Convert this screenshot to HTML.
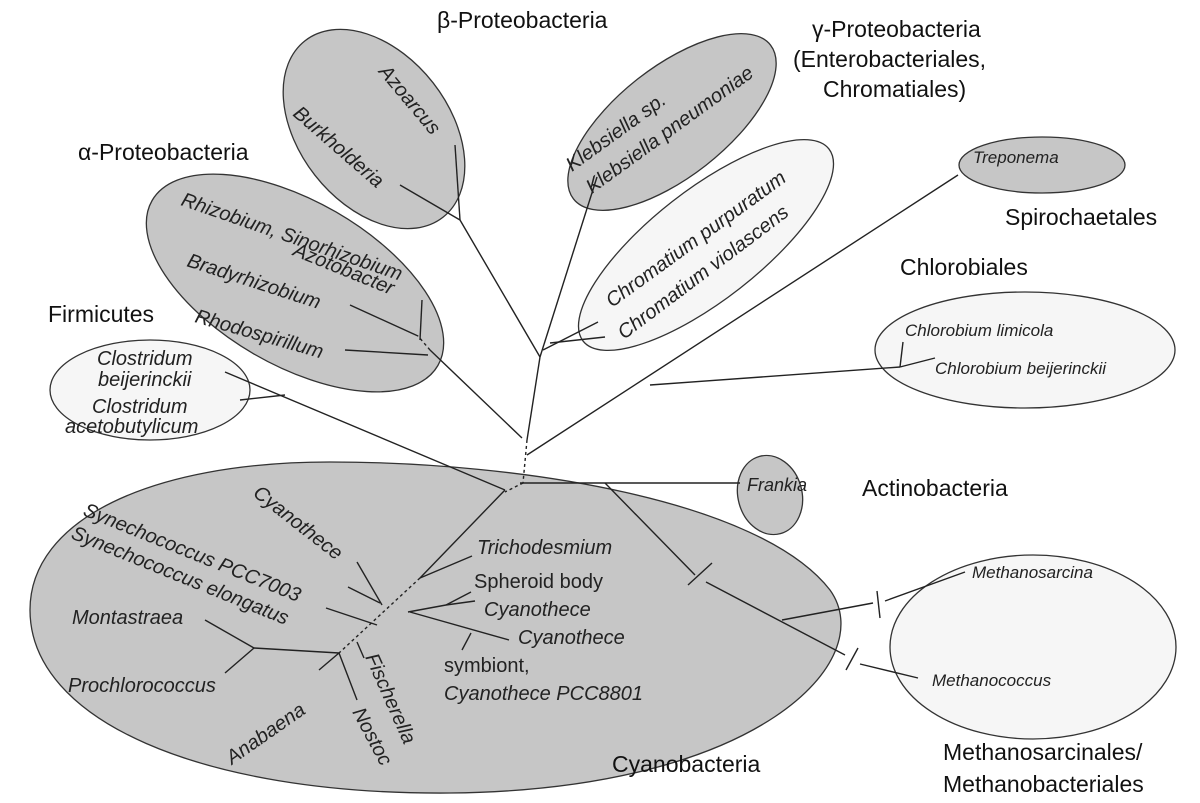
<!DOCTYPE html>
<html><head><meta charset="utf-8"><style>
html,body{margin:0;padding:0;background:#fff;}
svg{display:block;}
.t{font-family:"Liberation Sans",sans-serif;font-size:23px;fill:#111;}
.i{font-family:"Liberation Sans",sans-serif;font-size:20px;font-style:italic;fill:#222;}
.r{font-family:"Liberation Sans",sans-serif;font-size:17px;font-style:italic;fill:#222;}
.n{font-family:"Liberation Sans",sans-serif;font-size:20px;fill:#222;}
.g{fill:#c6c6c6;stroke:#333;stroke-width:1.3;}
.l{fill:#f6f6f6;stroke:#333;stroke-width:1.3;}
line,polyline{stroke:#222;stroke-width:1.4;fill:none;}
.d{stroke-dasharray:3,3;}
</style></head><body>
<svg width="1200" height="803" viewBox="0 0 1200 803" xmlns="http://www.w3.org/2000/svg">
<ellipse class="g" cx="374" cy="129" rx="112" ry="75" transform="rotate(52 374 129)"/>
<ellipse class="g" cx="295" cy="283" rx="165" ry="82" transform="rotate(30 295 283)"/>
<ellipse class="l" cx="150" cy="390" rx="100" ry="50"/>
<ellipse class="g" cx="672" cy="122" rx="125" ry="55" transform="rotate(-38 672 122)"/>
<ellipse class="l" cx="706" cy="245" rx="156" ry="55" transform="rotate(-38 706 245)"/>
<ellipse class="g" cx="1042" cy="165" rx="83" ry="28"/>
<ellipse class="l" cx="1025" cy="350" rx="150" ry="58"/>
<ellipse class="g" cx="770" cy="495" rx="32" ry="40" transform="rotate(-15 770 495)"/>
<ellipse class="l" cx="1033" cy="647" rx="143" ry="92"/>
<path class="g" d="M30,610 C30,520 150,462 330,462 C520,462 760,500 830,590 C880,660 760,790 450,793 C200,795 30,720 30,610 Z"/>

<line x1="520" y1="483" x2="740" y2="483"/>
<line class="d" x1="527" y1="440" x2="523" y2="483"/>
<line class="d" x1="523" y1="483" x2="505" y2="492"/>
<line x1="225" y1="372" x2="505" y2="490"/>
<line x1="240" y1="400" x2="285" y2="395"/>
<line x1="527" y1="455" x2="958" y2="175"/>
<line x1="650" y1="385" x2="900" y2="367"/>
<line x1="900" y1="367" x2="935" y2="358"/>
<line x1="900" y1="367" x2="903" y2="342"/>
<line x1="527" y1="440" x2="540" y2="357"/>
<line x1="540" y1="357" x2="460" y2="220"/>
<line x1="455" y1="145" x2="460" y2="220"/>
<line x1="400" y1="185" x2="460" y2="220"/>
<line x1="540" y1="357" x2="597" y2="177"/>
<line x1="543" y1="350" x2="598" y2="322"/>
<line x1="550" y1="343" x2="605" y2="337"/>
<line x1="522" y1="438" x2="430" y2="350"/>
<line class="d" x1="430" y1="350" x2="418" y2="336"/>
<line x1="350" y1="305" x2="418" y2="336"/>
<line x1="422" y1="300" x2="420" y2="340"/>
<line x1="345" y1="350" x2="428" y2="355"/>
<line x1="505" y1="490" x2="420" y2="578"/>
<line class="d" x1="420" y1="578" x2="339" y2="653"/>
<line x1="420" y1="578" x2="472" y2="556"/>
<line x1="408" y1="612" x2="446" y2="605"/>
<line x1="446" y1="605" x2="471" y2="592"/>
<line x1="446" y1="605" x2="475" y2="601"/>
<line x1="410" y1="612" x2="509" y2="640"/>
<line x1="471" y1="633" x2="462" y2="650"/>
<line x1="357" y1="562" x2="382" y2="605"/>
<line x1="348" y1="587" x2="380" y2="603"/>
<line x1="326" y1="608" x2="377" y2="625"/>
<line x1="254" y1="648" x2="339" y2="653"/>
<line x1="205" y1="620" x2="254" y2="648"/>
<line x1="225" y1="673" x2="254" y2="648"/>
<line x1="319" y1="670" x2="339" y2="653"/>
<line x1="339" y1="653" x2="357" y2="700"/>
<line x1="357" y1="642" x2="364" y2="658"/>
<line x1="605" y1="483" x2="695" y2="575"/>
<line x1="688" y1="585" x2="712" y2="563"/>
<line x1="706" y1="582" x2="845" y2="655"/>
<line x1="846" y1="670" x2="858" y2="648"/>
<line x1="860" y1="664" x2="918" y2="678"/>
<line x1="782" y1="620" x2="873" y2="603"/>
<line x1="877" y1="591" x2="880" y2="618"/>
<line x1="885" y1="601" x2="965" y2="572"/>

<text class="t" x="437" y="28">β-Proteobacteria</text>
<text class="t" x="812" y="37">γ-Proteobacteria</text>
<text class="t" x="793" y="67">(Enterobacteriales,</text>
<text class="t" x="823" y="97">Chromatiales)</text>
<text class="t" x="78" y="160">α-Proteobacteria</text>
<text class="t" x="48" y="322">Firmicutes</text>
<text class="t" x="1005" y="225">Spirochaetales</text>
<text class="t" x="900" y="275">Chlorobiales</text>
<text class="t" x="862" y="496">Actinobacteria</text>
<text class="t" x="612" y="772">Cyanobacteria</text>
<text class="t" x="943" y="760">Methanosarcinales/</text>
<text class="t" x="943" y="792">Methanobacteriales</text>

<text class="i" transform="translate(378,72) rotate(50)">Azoarcus</text>
<text class="i" transform="translate(292,115) rotate(41)">Burkholderia</text>
<text class="i" transform="translate(180,205) rotate(19)">Rhizobium, Sinorhizobium</text>
<text class="i" transform="translate(292,255) rotate(22)">Azotobacter</text>
<text class="i" transform="translate(186,266) rotate(18)">Bradyrhizobium</text>
<text class="i" transform="translate(194,322) rotate(16)">Rhodospirillum</text>
<text class="i" x="97" y="365">Clostridum</text>
<text class="i" x="98" y="386">beijerinckii</text>
<text class="i" x="92" y="413">Clostridum</text>
<text class="i" x="65" y="433">acetobutylicum</text>
<text class="i" transform="translate(572,172) rotate(-36)">Klebsiella sp.</text>
<text class="i" transform="translate(592,194) rotate(-36)">Klebsiella pneumoniae</text>
<text class="i" transform="translate(612,308) rotate(-36)">Chromatium purpuratum</text>
<text class="i" transform="translate(624,340) rotate(-37)">Chromatium violascens</text>
<text class="r" x="973" y="163">Treponema</text>
<text class="r" x="905" y="336">Chlorobium limicola</text>
<text class="r" x="935" y="374">Chlorobium beijerinckii</text>
<text class="r" x="747" y="491" style="font-size:18px">Frankia</text>
<text class="r" x="972" y="578">Methanosarcina</text>
<text class="r" x="932" y="686">Methanococcus</text>
<text class="i" transform="translate(252,495) rotate(38)">Cyanothece</text>
<text class="i" transform="translate(82,515) rotate(22)">Synechococcus PCC7003</text>
<text class="i" transform="translate(70,538) rotate(22)">Synechococcus elongatus</text>
<text class="i" x="72" y="624">Montastraea</text>
<text class="i" x="68" y="692">Prochlorococcus</text>
<text class="i" transform="translate(232,765) rotate(-35)">Anabaena</text>
<text class="i" transform="translate(352,712) rotate(62)">Nostoc</text>
<text class="i" transform="translate(365,657) rotate(66)">Fischerella</text>
<text class="i" x="477" y="554">Trichodesmium</text>
<text class="n" x="474" y="588">Spheroid body</text>
<text class="i" x="484" y="616">Cyanothece</text>
<text class="i" x="518" y="644">Cyanothece</text>
<text class="n" x="444" y="672">symbiont,</text>
<text class="i" x="444" y="700">Cyanothece PCC8801</text>
</svg>
</body></html>
